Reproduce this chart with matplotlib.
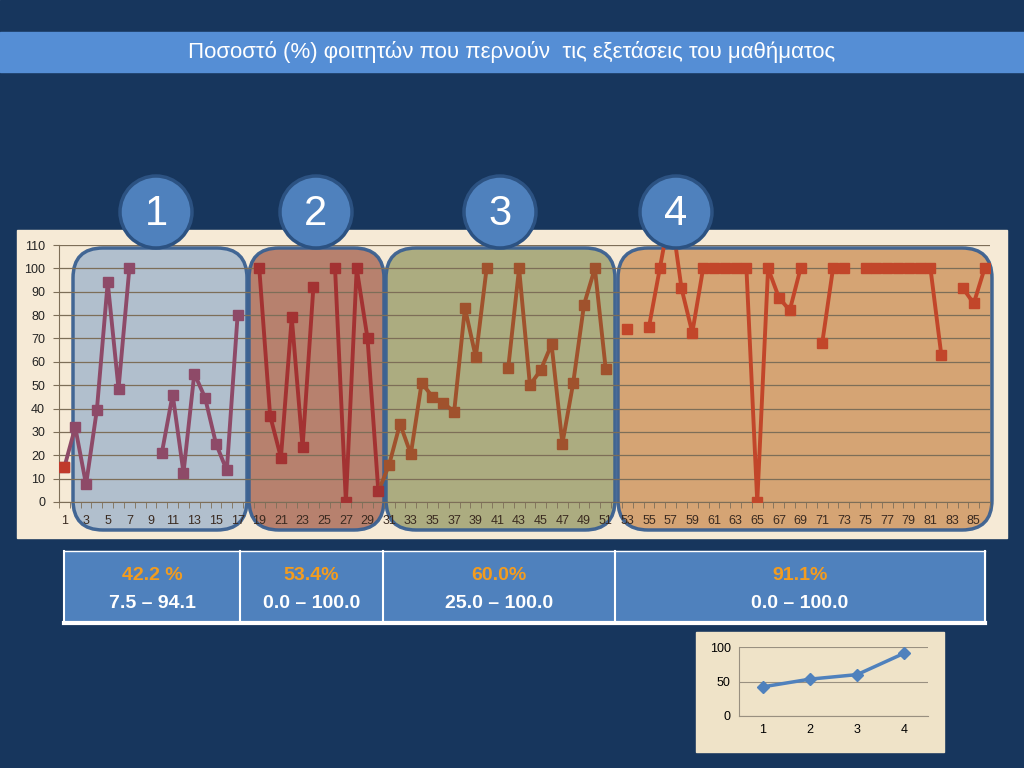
"""
slide: pass rate (%) per course, four groups
"""
import numpy as np
import matplotlib
matplotlib.use("Agg")
from matplotlib import pyplot as plt
from matplotlib.patches import Rectangle, FancyBboxPatch, Circle

plt.rcParams['font.family'] = ['Liberation Sans', 'DejaVu Sans']

nan = np.nan

# pass rate per course, course numbers 1..86 split into four groups
g1_courses = list(range(1, 18))
g1_vals = [15, 32, 7.5, 39.5, 94, 48.5, 100, nan, nan, 21, 46, 12.5, 55, 44.5, 25, 13.5, 80]
g2_courses = list(range(18, 31))
g2_vals = [nan, 100, 37, 19, 79, 23.5, 92, nan, 100, 0, 100, 70, 4.5]
g3_courses = list(range(31, 52))
g3_vals = [16, 33.5, 20.5, 51, 45, 42.5, 38.5, 83, 62, 100, nan, 57.5, 100, 50, 56.5, 67.5, 25, 51, 84.5, 100, 57]
g4_courses = list(range(52, 87))
g4_vals = [nan, 74, nan, 75, 100, 125, 91.5, 72.5, 100, 100, 100, 100, 100, 0, 100, 87.5, 82, 100,
           nan, 68, 100, 100, nan, 100, 100, 100, 100, 100, 100, 100, 63, nan, 91.5, 85, 100]

group_labels = ['1', '2', '3', '4']
group_means = [42.2, 53.4, 60.0, 91.1]
mean_texts = ['42.2 %', '53.4%', '60.0%', '91.1%']
range_texts = ['7.5 – 94.1', '0.0 – 100.0', '25.0 – 100.0', '0.0 – 100.0']
title = 'Ποσοστό (%) φοιτητών που περνούν  τις εξετάσεις του μαθήματος'

W, H = 1024, 768
fig = plt.figure(figsize=(W / 100, H / 100), dpi=100)


def frac(x0, y0, x1, y1):
    # pixel box (top-left origin) -> figure fraction rect
    return [x0 / W, 1 - y1 / H, (x1 - x0) / W, (y1 - y0) / H]


# background layer in pixel coordinates
bg = fig.add_axes([0, 0, 1, 1], zorder=0)
bg.set_xlim(0, W)
bg.set_ylim(H, 0)
bg.axis('off')
bg.add_patch(Rectangle((0, 0), W, H, color='#17365d'))
bg.add_patch(Rectangle((0, 32), W, 40, color='#558ed5'))
bg.text(512, 52, title, color='white', fontsize=16, ha='center', va='center')

# parchment behind the big chart
bg.add_patch(Rectangle((17, 230), 990, 308, color='#f6ead6'))

# coloured rounded boxes behind each group
box_x = [(72, 248), (248, 385), (385, 616), (617, 993)]
box_colors = ['#aebdcd', '#b47c69', '#a8a97c', '#d4a06f']
for (x0, x1), c in zip(box_x, box_colors):
    bg.add_patch(FancyBboxPatch((x0 + 1, 248), x1 - x0 - 2, 282,
                                boxstyle='round,pad=0,rounding_size=30',
                                facecolor=c, edgecolor='#3a6091', lw=2.5, alpha=0.95))

# table with the group summaries
col_x = [64, 240, 383, 615, 985]
bg.add_patch(Rectangle((64, 551), 921, 72, color='#4f81bd'))
bg.plot([64, 985], [551, 551], color='white', lw=1)
bg.plot([64, 985], [623, 623], color='white', lw=3)
for x in col_x:
    bg.plot([x, x], [551, 623], color='white', lw=1.5)
for i in range(4):
    cx = (col_x[i] + col_x[i + 1]) / 2
    bg.text(cx, 575, mean_texts[i], color='#f39c1f', fontsize=14, ha='center', va='center',
            fontweight='bold')
    bg.text(cx, 603, range_texts[i], color='white', fontsize=14, ha='center', va='center',
            fontweight='bold')

# parchment behind the small chart
bg.add_patch(Rectangle((696, 632), 248, 120, color='#efe3c8'))

# main line chart
ax = fig.add_axes(frac(59, 245, 990, 502), zorder=1)
ax.set_facecolor('none')
ax.set_xlim(0.5, 86.5)
ax.set_ylim(0, 110)
line_colors = ['#8e4a68', '#a33232', '#a0522d', '#c2462a']
groups = [(g1_courses, g1_vals), (g2_courses, g2_vals), (g3_courses, g3_vals), (g4_courses, g4_vals)]
prev_x, prev_y = None, None
for (xs, ys), c in zip(groups, line_colors):
    lx, ly = list(xs), list(ys)
    if prev_x is not None and not np.isnan(prev_y) and not np.isnan(ly[0]):
        lx, ly = [prev_x] + lx, [prev_y] + ly
    ax.plot(lx, ly, color=c, lw=2.8, zorder=3)
    ax.plot(xs, ys, color=c, lw=0, marker='s', ms=7.5, zorder=4)
    prev_x, prev_y = xs[-1], ys[-1]
# first point is drawn in red
ax.plot(g1_courses[0], g1_vals[0], color='#c0392b', marker='s', ms=7.5, zorder=5)

ax.set_yticks(np.arange(0, 111, 10))
ax.yaxis.grid(True, color='#7d6e58', lw=0.9)
ax.set_axisbelow(True)
ax.set_xticks(np.arange(1, 87, 2))
ax.set_xticks(np.arange(0.5, 87, 1), minor=True)
ax.tick_params(axis='x', which='major', length=0, labelsize=9, labelcolor='#3a2a20', pad=9)
ax.tick_params(axis='x', which='minor', length=4, color='#7d6e58', direction='out')
ax.tick_params(axis='y', length=4, labelsize=9, labelcolor='#222222', color='#7d6e58', pad=6)
for s in ['top', 'right']:
    ax.spines[s].set_visible(False)
ax.spines['left'].set_color('#7d6e58')
ax.spines['bottom'].set_color('#7d6e58')

# numbered circles on top
top = fig.add_axes([0, 0, 1, 1], zorder=3)
top.set_facecolor('none')
top.set_xlim(0, W)
top.set_ylim(H, 0)
top.axis('off')
for cx, lab in zip([156, 316, 500, 676], group_labels):
    top.add_patch(Circle((cx, 212), 36, facecolor='#4f81bd', edgecolor='#2c5282', lw=2.5))
    top.text(cx, 214, lab, color='white', fontsize=30, ha='center', va='center')

# small chart of the group means
sm = fig.add_axes(frac(739, 647, 928, 716), zorder=2)
sm.set_facecolor('none')
sm.plot([1, 2, 3, 4], group_means, color='#4f81bd', lw=2.5, marker='D', ms=6)
sm.set_xlim(0.5, 4.5)
sm.set_ylim(0, 100)
sm.set_yticks([0, 50, 100])
sm.set_xticks([1, 2, 3, 4])
sm.yaxis.grid(True, color='#999080', lw=0.8)
sm.tick_params(labelsize=9, length=0, pad=6)
for s in ['top', 'right']:
    sm.spines[s].set_visible(False)
sm.spines['left'].set_color('#999080')
sm.spines['bottom'].set_color('#999080')

fig.savefig('out.png', dpi=100)
